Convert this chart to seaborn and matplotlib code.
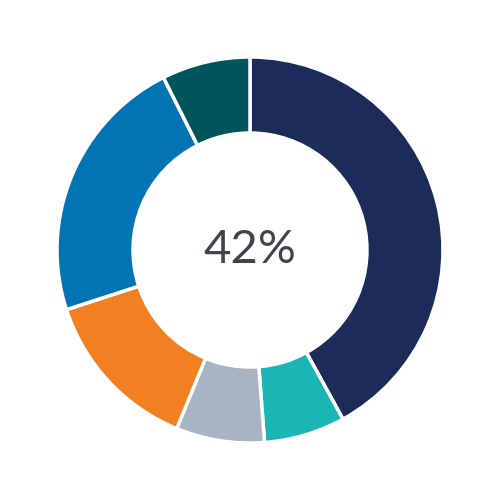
import matplotlib
matplotlib.use("Agg")
import matplotlib.pyplot as plt
import seaborn as sns

sns.set_theme(style="white")
plt.rcParams['font.family'] = ['Lato', 'DejaVu Sans']

segments = ["Navy", "Teal", "Gray", "Orange", "Blue", "Dark teal"]
values = [42.0, 6.8, 7.4, 13.8, 22.6, 7.4]
colors = ["#1c2b5a", "#1bb5b5", "#a8b4c3", "#f27f22", "#0274b4", "#00555a"]
center_label = "42%"

palette = sns.color_palette(colors)

fig = plt.figure(figsize=(5, 5), dpi=100)
ax = fig.add_axes([0, 0, 1, 1])
ax.pie(values, colors=palette, startangle=90, counterclock=False,
       radius=0.386, center=(0.5, 0.5),
       wedgeprops=dict(width=0.152, edgecolor="white", linewidth=2.5))
ax.set_xlim(0, 1)
ax.set_ylim(0, 1)
ax.set_aspect("equal")
ax.axis("off")
ax.text(0.5, 0.5, center_label, ha="center", va="center", fontsize=34,
        color="#40454b", fontweight="normal")
fig.savefig("out.png", dpi=100, facecolor="white")
